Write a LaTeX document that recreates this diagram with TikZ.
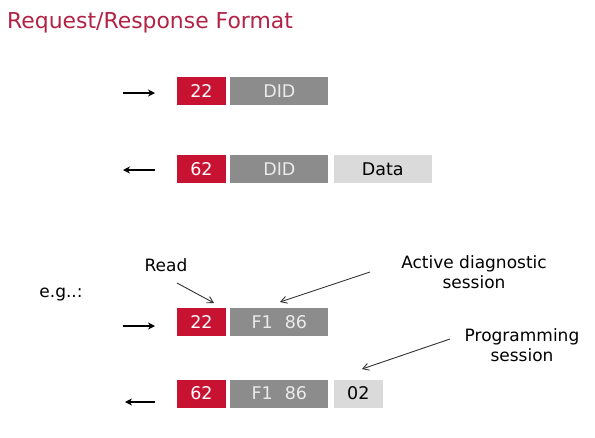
\documentclass[tikz,border=0pt]{standalone}
\usepackage{fontspec}
\setmainfont{DejaVu Sans}
\usetikzlibrary{positioning,arrows.meta}

\definecolor{titlered}{RGB}{178,34,68}
\definecolor{boxred}{RGB}{200,18,50}
\definecolor{boxgray}{RGB}{140,140,140}
\definecolor{boxlight}{RGB}{218,218,218}
\definecolor{notegray}{RGB}{50,50,50}

\begin{document}
\begin{tikzpicture}[x=1pt,y=-1pt,
  field/.style={minimum height=28pt,inner sep=0pt,font=\fontsize{17.5}{20}\selectfont},
  sid/.style={field,fill=boxred,text=white,minimum width=49pt},
  did/.style={field,fill=boxgray,text=white!92!black,minimum width=98pt},
  dat/.style={field,fill=boxlight,text=black,minimum width=98pt},
  dir/.style={-{Stealth[length=7pt,width=7pt]},line width=2pt,black},
  note/.style={-{Straight Barb[length=6pt,width=7pt]},line width=0.9pt,notegray},
  lbl/.style={font=\fontsize{17}{20}\selectfont,align=center,inner sep=0pt}]
\useasboundingbox (0,0) rectangle (595,437);
\node [anchor=base west,text=titlered,font=\fontsize{21.9}{24}\selectfont,inner sep=0pt] (title) at (7,28) {Request/Response Format};
% request
\node [sid] (r1) at (201.5,91) {22};
\node [did,right=4pt of r1] (d1) {DID};
% response
\node [sid] (r2) at (201.5,169) {62};
\node [did,right=4pt of r2] (d2) {DID};
\node [dat,right=5pt of d2] (x2) {Data};
% example
\node [lbl] (eg) at (61,295) {e.g..:};
\node [sid] (r3) at (201.5,322) {22};
\node [did,right=4pt of r3] (d3) {F1\hspace{12pt}86};
\node [sid] (r4) at (201.5,393.5) {62};
\node [did,right=4pt of r4] (d4) {F1\hspace{12pt}86};
\node [dat,minimum width=49pt,right=5pt of d4] (x4) {02};
\node [lbl] (read) at (166,265) {Read};
\node [lbl] (active) at (474,272) {Active diagnostic\\session};
\node [lbl] (prog) at (522,345) {Programming\\session};
% direction arrows
\coordinate (a1) at (123,93); \coordinate (b1) at (155,93);
\coordinate (a2) at (123,170); \coordinate (b2) at (155,170);
\coordinate (a3) at (123,326); \coordinate (b3) at (155,326);
\coordinate (a4) at (125,402); \coordinate (b4) at (155,402);
\draw [dir] (a1) -- (b1);
\draw [dir] (b2) -- (a2);
\draw [dir] (a3) -- (b3);
\draw [dir] (b4) -- (a4);
% notes
\coordinate (n1) at (177,283); \coordinate (m1) at (214,303);
\coordinate (n2) at (370,272); \coordinate (m2) at (280,302);
\coordinate (n3) at (450,339); \coordinate (m3) at (362,369);
\draw [note] (n1) -- (m1);
\draw [note] (n2) -- (m2);
\draw [note] (n3) -- (m3);
\end{tikzpicture}
\end{document}
